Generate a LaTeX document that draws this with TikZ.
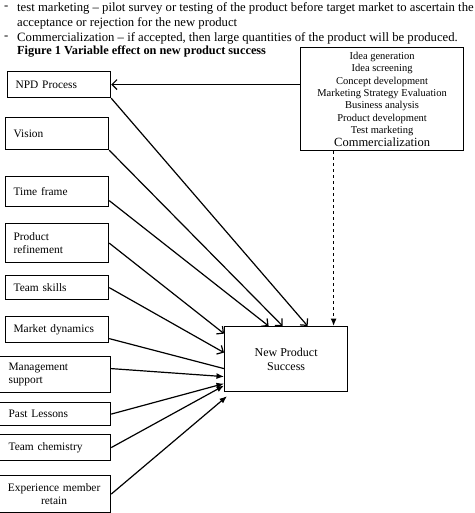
\documentclass[tikz,border=0pt]{standalone}
\usepackage{fontspec}
\setmainfont{Liberation Serif}
\usetikzlibrary{arrows.meta}

\tikzset{
  head/.style={anchor=west, inner sep=0pt, font=\fontsize{12.7}{14}\selectfont},
  factor/.style={draw, line width=1.2pt, anchor=north west, minimum width=103pt,
    text width=87pt, inner xsep=8pt, align=left, font=\fontsize{11.4}{12.5}\selectfont},
  lowfactor/.style={factor, minimum width=113pt, text width=91pt, inner xsep=11pt},
  open/.style={line width=1.2pt, -{Straight Barb[length=5pt,width=10pt]}},
  solid head/.style={line width=1.2pt, -{Latex[length=7.5pt,width=6pt]}},
}

\begin{document}
\begin{tikzpicture}[x=1pt,y=-1pt]
  \clip (0,0) rectangle (474,513);

  % text above the figure
  \node[head] (dasha) at (4,8) {-};
  \node[head] (texta) at (17,8) {test marketing -- pilot survey or testing of the product before target market to ascertain the};
  \node[head] (textb) at (17,23) {acceptance or rejection for the new product};
  \node[head] (dashb) at (4,38) {-};
  \node[head] (textc) at (17,38) {Commercialization -- if accepted, then large quantities of the product will be produced.};
  \node[head, font=\fontsize{12.3}{14}\selectfont\bfseries] (caption) at (17,52) {Figure 1 Variable effect on new product success};

  % variables
  \node[factor, minimum height=26pt] (npd) at (7,71) {NPD Process};
  \node[factor, minimum height=32pt] (vision) at (5,117) {Vision};
  \node[factor, minimum height=30pt] (timeframe) at (5,176) {Time frame};
  \node[factor, minimum height=39pt] (refine) at (5,223) {Product\\refinement};
  \node[factor, minimum height=24pt] (skills) at (5,275) {Team skills};
  \node[factor, minimum height=26pt] (market) at (5,316) {Market dynamics};
  \node[lowfactor, minimum height=36pt] (mgmt) at (-3,356) {Management\\support};
  \node[lowfactor, minimum height=23pt] (lessons) at (-3,402) {Past Lessons};
  \node[lowfactor, minimum height=26pt] (chem) at (-3,434) {Team chemistry};
  \node[lowfactor, minimum height=37pt, text width=103pt, inner xsep=5pt, align=center] (retain) at (-3,475) {Experience member\\retain};

  % stages and outcome
  \node[draw, line width=1.2pt, anchor=north west, minimum width=163pt, minimum height=103pt,
    align=center, font=\fontsize{10.5}{12.4}\selectfont] (stages) at (300,47)
    {Idea generation\\Idea screening\\Concept development\\Marketing Strategy Evaluation\\
     Business analysis\\Product development\\Test marketing\\
     {\fontsize{12.5}{14}\selectfont Commercialization}};
  \node[draw, line width=1.2pt, anchor=north west, minimum width=123pt, minimum height=65pt,
    align=center, font=\fontsize{12}{14}\selectfont] (success) at (224,326) {New Product\\Success};

  \coordinate (dashend) at ([xshift=47.5pt]success.north);

  % connectors
  \draw[open] (stages.west |- npd.east) -- (npd.east);
  \draw[solid head, dashed] (stages.south -| dashend) -- (dashend);
  \draw[open] (npd.south east) -- ([xshift=21.5pt]success.north);
  \draw[open] (vision.south east) -- ([xshift=-3.5pt]success.north);
  \draw[open] ([yshift=-9pt]timeframe.east) -- ([xshift=-17.5pt]success.north);
  \draw[open] (refine.east) -- ([yshift=25.5pt]success.west);
  \draw[open] (skills.east) -- ([yshift=6.5pt]success.west);
  \draw[line width=1.2pt] ([yshift=-9pt]market.east) -- ([yshift=-9.5pt]success.west);
  \draw[solid head] ([yshift=6pt]mgmt.east) -- ([yshift=-17.5pt]success.west);
  \draw[solid head] (lessons.east) -- ([yshift=-24.5pt]success.west);
  \draw[solid head] (chem.east) -- ([yshift=-26.5pt]success.west);
  \draw[solid head] (retain.east) -- ([shift={(3pt,-4pt)}]success.south west);
\end{tikzpicture}
\end{document}
